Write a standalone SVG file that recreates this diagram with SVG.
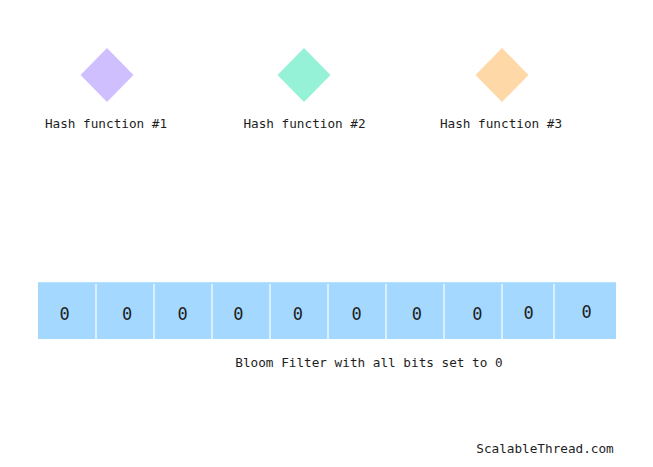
<svg xmlns="http://www.w3.org/2000/svg" width="653" height="467" viewBox="0 0 653 467">
<style>
text{font-family:"DejaVu Sans Mono","Liberation Mono",monospace;fill:#1e1e1e}
.lbl{font-size:12.7px;text-anchor:middle}
.bit{font-size:17px;text-anchor:middle}
.cell{fill:#a5d8ff}
.div{stroke:#e7f5ff;stroke-width:1.6}
</style>
<rect width="653" height="467" fill="#ffffff"/>
<g id="hash1">
<polygon points="107,48 133.5,75 107,102 80.5,75" fill="#d0bfff"/>
<text class="lbl" x="106" y="128">Hash function #1</text>
</g>
<g id="hash2">
<polygon points="304,48 330.5,75 304,102 277.5,75" fill="#96f2d7"/>
<text class="lbl" x="304.5" y="128">Hash function #2</text>
</g>
<g id="hash3">
<polygon points="502,48 528.5,75 502,102 475.5,75" fill="#ffd8a8"/>
<text class="lbl" x="501" y="128">Hash function #3</text>
</g>
<g id="bloom-filter">
<rect class="cell" x="38" y="282" width="578" height="57"/>
<line x1="38" y1="282.5" x2="616" y2="282.5" stroke="#b8e0ff" stroke-width="1"/>
<g class="div">
<line x1="96" y1="284" x2="96" y2="339"/>
<line x1="154" y1="284" x2="154" y2="339"/>
<line x1="212" y1="284" x2="212" y2="339"/>
<line x1="270" y1="284" x2="270" y2="339"/>
<line x1="328" y1="284" x2="328" y2="339"/>
<line x1="386" y1="284" x2="386" y2="339"/>
<line x1="444" y1="284" x2="444" y2="339"/>
<line x1="502" y1="284" x2="502" y2="339"/>
<line x1="554" y1="284" x2="554" y2="339"/>
</g>
<text class="bit" x="64.5" y="320">0</text>
<text class="bit" x="127" y="320">0</text>
<text class="bit" x="182.5" y="320">0</text>
<text class="bit" x="238.3" y="320">0</text>
<text class="bit" x="297.8" y="320">0</text>
<text class="bit" x="356.5" y="320">0</text>
<text class="bit" x="416.8" y="320">0</text>
<text class="bit" x="477.3" y="320">0</text>
<text class="bit" x="528.5" y="319">0</text>
<text class="bit" x="586.5" y="318">0</text>
<text class="lbl" x="369" y="367">Bloom Filter with all bits set to 0</text>
</g>
<g id="credit">
<text class="lbl" x="545" y="453">ScalableThread.com</text>
</g>
</svg>
